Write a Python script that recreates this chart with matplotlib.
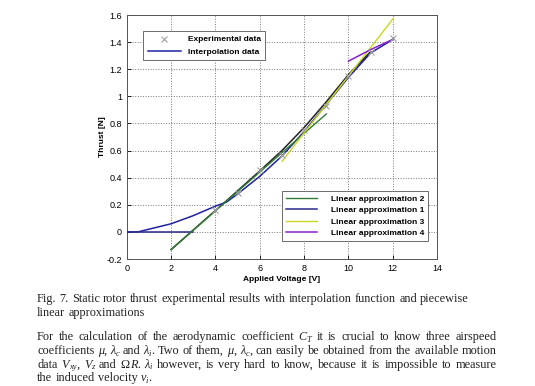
import re

import matplotlib
matplotlib.use("Agg")
import matplotlib.pyplot as plt
import numpy as np
from matplotlib.transforms import IdentityTransform

# experimental points
exp_v = [4, 5, 6, 7, 8, 9, 10, 11, 12]
exp_t = [0.16, 0.29, 0.46, 0.57, 0.75, 0.93, 1.15, 1.33, 1.43]

# interpolation curve
interp_v = [0, 0.5, 1, 2, 3, 4, 4.5, 5, 6, 7, 8, 9, 10, 11, 12]
interp_t = [0, 0, 0.02, 0.06, 0.12, 0.19, 0.22, 0.28, 0.41, 0.56, 0.74, 0.94, 1.14, 1.32, 1.42]

# black fitted line (no legend entry)
fit_v = [2, 4.5, 6, 7, 8, 9, 10, 11]
fit_t = [-0.13, 0.23, 0.45, 0.60, 0.77, 0.96, 1.16, 1.33]

# piecewise linear approximations
la1_v, la1_t = [0, 3], [0, 0]
la2_v, la2_t = [2, 9], [-0.13, 0.87]
la3_v, la3_t = [7, 12], [0.52, 1.57]
la4_v, la4_t = [10, 11, 12], [1.26, 1.345, 1.42]

# body text; {i:..} italic, {s:..} italic subscript
caption = [
    "Fig. 7. Static rotor thrust experimental results with interpolation function and piecewise",
    "linear approximations",
]
para = [
    "For the calculation of the aerodynamic coefficient {i:C}{s:T} it is crucial to know three airspeed",
    "coefficients {i:μ}, {i:λ}{s:c} and {i:λ}{s:i}. Two of them, {i:μ}, {i:λ}{s:c}, can easily be obtained from the available motion",
    "data {i:V}{s:xy}, {i:V}{s:z} and Ω{i:R}. {i:λ}{s:i} however, is very hard to know, because it is impossible to measure",
    "the induced velocity {i:v}{s:i}.",
]

plt.rcParams["font.family"] = "Liberation Sans"

W, H = 535, 386
fig = plt.figure(figsize=(W / 100, H / 100), dpi=100)
ax = fig.add_axes([0.237, 0.329, 0.58, 0.632])

ax.plot(exp_v, exp_t, "x", color="#a0a0a0", ms=4, mew=0.8, label="Experimental data", zorder=6)
ax.plot(interp_v, interp_t, color="#2020a0", lw=1.1, label="Interpolation data", zorder=3)
ax.plot(fit_v, fit_t, color="#222222", lw=1.1, zorder=2)
l2, = ax.plot(la2_v, la2_t, color="#2e7d32", lw=1.0, label="Linear approximation 2", zorder=4)
l1, = ax.plot(la1_v, la1_t, color="#2a2a8a", lw=1.1, label="Linear approximation 1", zorder=3)
l3, = ax.plot(la3_v, la3_t, color="#c8d820", lw=1.0, label="Linear approximation 3", zorder=5)
l4, = ax.plot(la4_v, la4_t, color="#8a20c8", lw=1.1, label="Linear approximation 4", zorder=5)

ax.set_xlim(0, 14)
ax.set_ylim(-0.2, 1.6)
ax.set_xticks(np.arange(0, 15, 2))
ax.set_yticks(np.arange(-0.2, 1.61, 0.2))
ax.set_yticklabels(["-0.2", "0", "0.2", "0.4", "0.6", "0.8", "1", "1.2", "1.4", "1.6"])
ax.grid(True, linestyle=":", color="#777777", lw=0.7)
ax.tick_params(labelsize=6.5, direction="in", length=3, width=0.6)
for s in ax.spines.values():
    s.set_linewidth(0.7)
    s.set_color("#555555")
ax.set_xlabel("Applied Voltage [V]", fontsize=6, fontweight="bold", labelpad=2)
ax.set_ylabel("Thrust [N]", fontsize=6, fontweight="bold", labelpad=0)

h, lab = ax.get_legend_handles_labels()
leg1 = ax.legend(h[:2], lab[:2], loc="upper left", bbox_to_anchor=(0.04, 0.95),
                 prop={"weight": "bold", "size": 6}, fancybox=False,
                 edgecolor="#555555", framealpha=1, handlelength=4, borderpad=0.5,
                 labelspacing=0.6)
leg1.get_frame().set_linewidth(0.6)
ax.add_artist(leg1)
leg2 = ax.legend([l2, l1, l3, l4], [l.get_label() for l in (l2, l1, l3, l4)],
                 loc="lower right", bbox_to_anchor=(0.985, 0.055),
                 prop={"weight": "bold", "size": 6}, fancybox=False,
                 edgecolor="#555555", framealpha=1, handlelength=3.8, borderpad=0.5,
                 labelspacing=0.45, handletextpad=1.6)
leg2.get_frame().set_linewidth(0.6)

# text below the chart, laid out word by word (pixel coords) so it can be justified
serif = "Liberation Serif"
ink = "#222222"
size = 8.8
ident = IdentityTransform()
renderer = fig.canvas.get_renderer()


def pieces(word):
    out = []
    for part in re.split(r"(\{[is]:[^}]*\})", word):
        if not part:
            continue
        if part.startswith("{"):
            out.append((part[3:-1], part[1]))
        else:
            out.append((part, "n"))
    return out


def width_of(t):
    return t.get_window_extent(renderer).width


probe_a = fig.text(0, 0, "x x", fontsize=size, family=serif, transform=ident)
probe_b = fig.text(0, 0, "xx", fontsize=size, family=serif, transform=ident)
space = width_of(probe_a) - width_of(probe_b)
probe_a.remove()
probe_b.remove()


def set_line(line, x0, base, right=None):
    words = []
    for w in line.split(" "):
        ts = []
        for s, kind in pieces(w):
            fs = size * 0.7 if kind == "s" else size
            st = "normal" if kind == "n" else "italic"
            t = fig.text(0, 0, s, fontsize=fs, family=serif, style=st,
                         va="baseline", color=ink, transform=ident)
            ts.append((t, kind))
        words.append(ts)
    widths = [sum(width_of(t) for t, _ in ws) for ws in words]
    gap = space
    if right is not None and len(words) > 1:
        gap = (right - x0 - sum(widths)) / (len(words) - 1)
    x = x0
    y = H - base
    for ws, wd in zip(words, widths):
        xx = x
        for t, kind in ws:
            t.set_position((xx, y - 1.8 if kind == "s" else y))
            xx += width_of(t)
        x += wd + gap


step = 13.8
base = 302
for line in caption:
    set_line(line, 37, base)
    base += step
base = 340
for k, line in enumerate(para):
    set_line(line, 37, base, right=497 if k < len(para) - 1 else None)
    base += step

fig.savefig("out.png", dpi=100, facecolor="white")
